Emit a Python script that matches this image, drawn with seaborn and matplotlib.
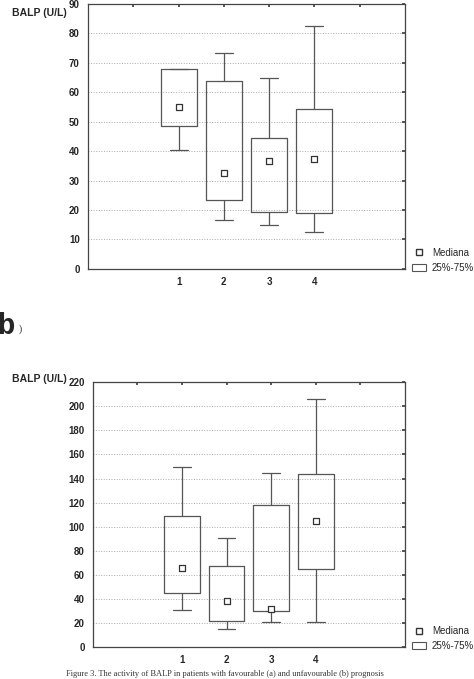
import matplotlib
matplotlib.use("Agg")
import matplotlib.pyplot as plt
import seaborn as sns
import pandas as pd
from matplotlib.lines import Line2D
from matplotlib.patches import Patch

groups = ["1", "2", "3", "4"]
# [min, q1, median, q3, max] per group
a_stats = [[40.5, 48.5, 55, 68, 68],
           [16.5, 23.5, 32.5, 64, 73.5],
           [15, 19.5, 36.5, 44.5, 65],
           [12.5, 19, 37.5, 54.5, 82.5]]
b_stats = [[31, 45, 66, 109, 150],
           [15, 22, 38, 67, 91],
           [21, 30, 32, 118, 145],
           [21, 65, 105, 144, 206]]
a_ticks = list(range(0, 91, 10))
b_ticks = list(range(0, 221, 20))

sns.set_theme(style="white")
plt.rcParams['font.family'] = ['Liberation Sans', 'DejaVu Sans']

fig = plt.figure(figsize=(4.74, 6.79), dpi=100)
ax1 = fig.add_axes([0.186, 0.604, 0.668, 0.390])
ax2 = fig.add_axes([0.196, 0.047, 0.658, 0.390])

def draw(ax, stats, ticks):
    rows = []
    for g, s in zip(groups, stats):
        for v in s:
            rows.append({"pos": int(g), "val": v})
    df = pd.DataFrame(rows)
    sns.boxplot(data=df, x="pos", y="val", native_scale=True, whis=(0, 100),
                width=0.8, fill=False, color="#555555", linewidth=0.9,
                medianprops={"visible": False}, showcaps=True,
                capprops={"color": "#555555"}, ax=ax)
    med = pd.DataFrame({"pos": [int(g) for g in groups], "val": [s[2] for s in stats]})
    sns.scatterplot(data=med, x="pos", y="val", marker="s", s=18, facecolor="white",
                    edgecolor="#333333", linewidth=0.9, ax=ax, zorder=5)
    ax.set_xlim(-1, 6)
    ax.set_ylim(ticks[0], ticks[-1])
    ax.set_yticks(ticks)
    ax.set_xticks(range(0, 6))
    ax.set_xticklabels(["", "1", "2", "3", "4", ""])
    ax.set_xlabel("")
    ax.set_ylabel("")
    ax.tick_params(direction="in", length=2.5, labelsize=7, top=True, right=True,
                   color="#444444", pad=6)
    for lab in ax.get_xticklabels() + ax.get_yticklabels():
        lab.set_fontweight("bold")
    ax.yaxis.grid(True, linestyle=":", color="#aaaaaa", linewidth=0.7)
    for sp in ax.spines.values():
        sp.set_color("#444444")
        sp.set_linewidth(0.9)
    handles = [Line2D([], [], marker="s", linestyle="none", markersize=4,
                      markerfacecolor="white", markeredgecolor="#333333"),
               Patch(facecolor="white", edgecolor="#555555", linewidth=0.8)]
    ax.legend(handles, ["Mediana", "25%-75%"], loc="lower left",
              bbox_to_anchor=(1.0, -0.04), frameon=False, fontsize=7,
              handlelength=1.5, handletextpad=0.6, borderaxespad=0.3)

draw(ax1, a_stats, a_ticks)
draw(ax2, b_stats, b_ticks)

fig.text(0.025, 0.988, "BALP (U/L)", fontsize=7.5, fontweight="bold", va="top")
fig.text(0.025, 0.442, "BALP (U/L)", fontsize=7.5, fontweight="bold", va="center")
fig.text(-0.005, 0.52, "b", fontsize=21, fontweight="bold", family="Liberation Mono", va="center")
fig.text(0.04, 0.515, ")", fontsize=7, family="Liberation Serif", va="center")
fig.text(0.14, 0.002, "Figure 3. The activity of BALP in patients with favourable (a) and unfavourable (b) prognosis",
         fontsize=6, family="Liberation Serif", va="bottom", color="#333333")

fig.savefig("out.png", dpi=100)
